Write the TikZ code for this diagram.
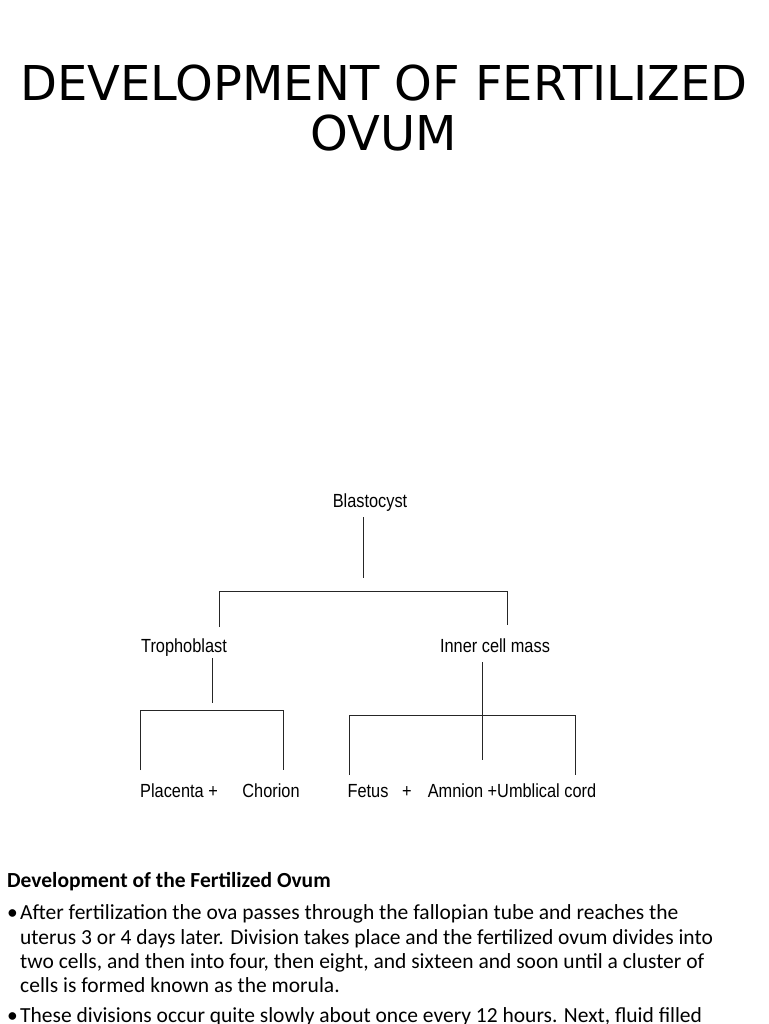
\documentclass[tikz,border=0pt]{standalone}
\usepackage{fontspec}
\setmainfont{Carlito}
\newfontfamily\titlefont{DejaVu Sans}
\newfontfamily\diafont{Liberation Sans}[FakeStretch=0.86]
\begin{document}
\begin{tikzpicture}[x=1pt,y=-1pt,
  lab/.style={font=\diafont\fontsize{19}{19}\selectfont,inner sep=0pt,anchor=base},
  ln/.style={line width=0.8pt,draw=black!85},
  body/.style={font=\fontsize{21.5}{21.5}\selectfont,inner sep=0pt,anchor=base west}]
\clip (0,0) rectangle (768,1024);
\useasboundingbox (0,0) rectangle (768,1024);
\fill[white] (0,0) rectangle (768,1024);
\node[font=\titlefont\fontsize{48}{48}\selectfont,inner sep=0pt,anchor=base] (t1) at (384,101) {DEVELOPMENT OF FERTILIZED};
\node[font=\titlefont\fontsize{48}{48}\selectfont,inner sep=0pt,anchor=base] (t2) at (384,151) {OVUM};
% diagram
\node[lab] (bl) at (370,507) {Blastocyst};
\node[lab] (tr) at (184,652) {Trophoblast};
\node[lab] (ic) at (495,652) {Inner cell mass};
\node[lab] (pl) at (179,797) {Placenta +};
\node[lab] (ch) at (271,797) {Chorion};
\node[lab] (fe) at (368,797) {Fetus};
\node[lab] (pp) at (407,797) {+};
\node[lab] (am) at (512,797) {Amnion +Umblical cord};
\coordinate (b1) at (363,517); \coordinate (b2) at (363,578);
\draw[ln] (b1) -- (b2);
\coordinate (hl) at (219,591); \coordinate (hr) at (507,591);
\draw[ln] (219,627) -- (hl) -- (hr) -- (507,625);
\draw[ln] (212,658) -- (212,703);
\draw[ln] (140,770) -- (140,710) -- (283,710) -- (283,770);
\draw[ln] (482,662) -- (482,760);
\draw[ln] (349,775) -- (349,715) -- (575,715) -- (575,775);
% body text
\node[body,font=\bfseries\fontsize{21.5}{21.5}\selectfont] (hd) at (7,887) {Development of the Fertilized Ovum};
\node[body] (d1) at (7,919) {•};
\node[body] (l1) at (20,919) {After fertilization the ova passes through the fallopian tube and reaches the};
\node[body] (l2) at (20,944) {uterus 3 or 4 days later. Division takes place and the fertilized ovum divides into};
\node[body] (l3) at (20,968) {two cells, and then into four, then eight, and sixteen and soon until a cluster of};
\node[body] (l4) at (20,992) {cells is formed known as the morula.};
\node[body] (d2) at (7,1022) {•};
\node[body] (l5) at (20,1022) {These divisions occur quite slowly about once every 12 hours. Next, fluid filled};
\end{tikzpicture}
\end{document}
